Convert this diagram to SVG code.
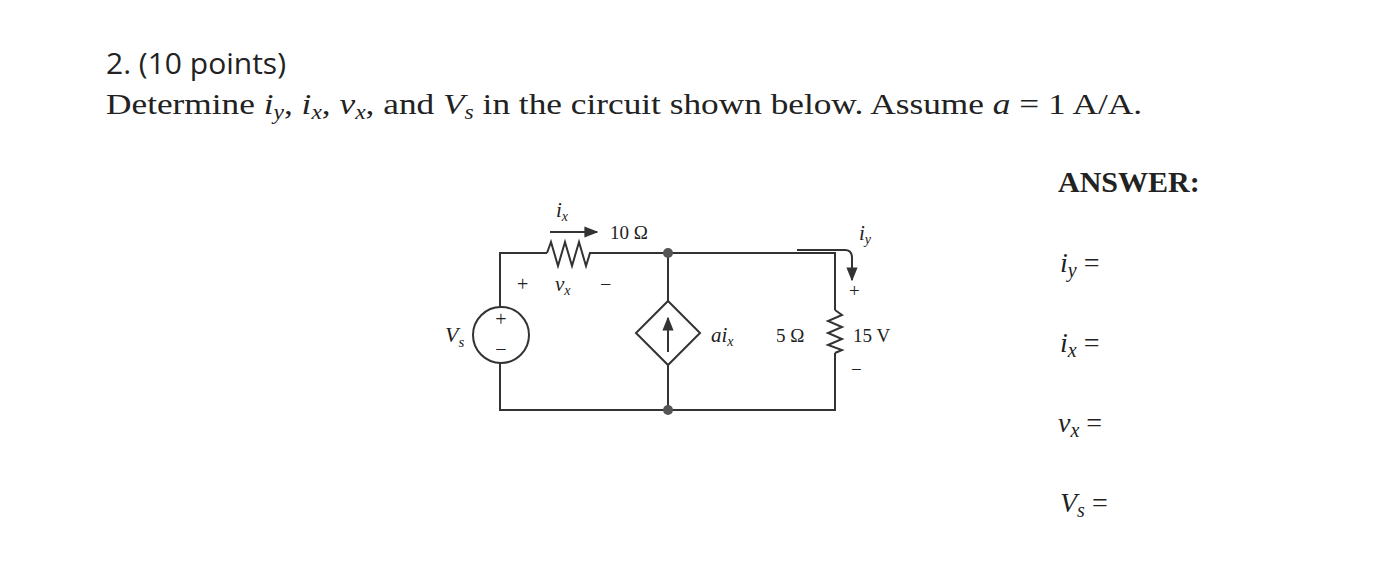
<svg xmlns="http://www.w3.org/2000/svg" width="1394" height="584" viewBox="0 0 1394 584">
<style>
.w{fill:none;stroke:#333;stroke-width:2}
.s{font-family:"Liberation Serif",serif;fill:#222}
.i{font-family:"Liberation Serif",serif;font-style:italic;fill:#222}
.h{font-family:"Open Sans","DejaVu Sans",sans-serif;fill:#222}
</style>
<defs><marker id="a" viewBox="0 0 10 10" refX="9" refY="5" markerWidth="7" markerHeight="7" orient="auto"><path d="M0,1 L10,5 L0,9 z" fill="#333"/></marker></defs>
<rect width="1394" height="584" fill="#fff"/>
<text x="106" y="74" font-size="30" class="h">2. (10 points)</text>
<text x="106" y="114" font-size="30" class="s" textLength="1036" lengthAdjust="spacingAndGlyphs">Determine <tspan class="i">i<tspan font-size="20" dy="5">y</tspan></tspan><tspan dy="-5">, </tspan><tspan class="i">i<tspan font-size="20" dy="5">x</tspan></tspan><tspan dy="-5">, </tspan><tspan class="i">v<tspan font-size="20" dy="5">x</tspan></tspan><tspan dy="-5">, and </tspan><tspan class="i">V<tspan font-size="20" dy="5">s</tspan></tspan><tspan dy="-5"> in the circuit shown below. Assume </tspan><tspan class="i">a</tspan> = 1 A/A.</text>
<text x="1058" y="192" font-size="30" font-weight="bold" class="s">ANSWER:</text>
<g id="answers">
<text x="1060" y="272" font-size="28" class="i">i<tspan font-size="20" dy="5">y</tspan><tspan dy="-5" font-style="normal"> =</tspan></text>
<text x="1060" y="352" font-size="28" class="i">i<tspan font-size="20" dy="5">x</tspan><tspan dy="-5" font-style="normal">   =</tspan></text>
<text x="1058" y="432" font-size="28" class="i">v<tspan font-size="20" dy="5">x</tspan><tspan dy="-5" font-style="normal">   =</tspan></text>
<text x="1060" y="512" font-size="28" class="i">V<tspan font-size="20" dy="5">s</tspan><tspan dy="-5" font-style="normal"> =</tspan></text>
</g>
<g id="connectors">
<path class="w" d="M547,253 H500 V307 M500,363 V410 H835 V353 M835,310 V253 H593"/>
<path class="w" d="M668,253 V301 M668,365 V410"/>
<path class="w" d="M550,232 H597" marker-end="url(#a)"/>
<path class="w" d="M797,250 H845 Q852,250 852,258 V280" marker-end="url(#a)"/>
</g>
<g id="vs">
<circle cx="501" cy="335" r="28" class="w"/>
<text x="501" y="326" font-size="20" text-anchor="middle" class="s">+</text>
<text x="501" y="356" font-size="20" text-anchor="middle" class="s">−</text>
<text x="445" y="342" font-size="22" class="i">V<tspan font-size="15" dy="5">s</tspan></text>
</g>
<g id="r10">
<path class="w" d="M547,253 L551,242 L558,266 L565,242 L572,266 L579,242 L586,266 L590,253 L593,253"/>
<text x="610" y="239" font-size="19" class="s">10 Ω</text>
<text x="556" y="217" font-size="21" class="i">i<tspan font-size="14" dy="4">x</tspan></text>
<text x="517" y="291" font-size="20" class="s">+</text>
<text x="555" y="291" font-size="21" class="i">v<tspan font-size="14" dy="4">x</tspan></text>
<text x="600" y="291" font-size="20" class="s">−</text>
</g>
<g id="dep">
<path class="w" d="M668,301 L700,333 L668,365 L636,333 Z"/>
<path class="w" d="M668,352 V318" marker-end="url(#a)"/>
<text x="711" y="342" font-size="21" class="i">ai<tspan font-size="14" dy="4">x</tspan></text>
</g>
<g id="r5">
<path class="w" d="M835,310 L842,315 L828,321 L842,327 L828,333 L842,339 L828,345 L842,350 L835,353"/>
<text x="776" y="342" font-size="19" class="s">5 Ω</text>
<text x="853" y="342" font-size="19" class="s">15 V</text>
<text x="849" y="297" font-size="19" class="s">+</text>
<text x="851" y="376" font-size="19" class="s">−</text>
<text x="859" y="240" font-size="21" class="i">i<tspan font-size="14" dy="4">y</tspan></text>
</g>
<g id="nodes"><circle cx="668" cy="253" r="5" fill="#555"/><circle cx="668" cy="410" r="5" fill="#555"/></g>
</svg>
